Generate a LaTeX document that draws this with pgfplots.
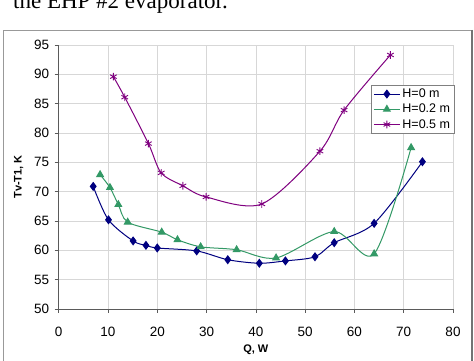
\documentclass[border=0pt]{standalone}
\usepackage{fontspec}
\setmainfont{Liberation Sans}
\newfontfamily\seriffont{Liberation Serif}
\usepackage{pgfplots}
\pgfplotsset{compat=1.18}
\definecolor{navyb}{RGB}{0,0,128}
\definecolor{greenc}{RGB}{51,153,102}
\definecolor{purplec}{RGB}{128,0,128}
\definecolor{gridc}{RGB}{215,215,215}
\definecolor{axc}{RGB}{90,90,90}
\begin{document}
\begin{tikzpicture}
\useasboundingbox (0,0) rectangle (474pt,361pt);
\clip (0,0) rectangle (474pt,361pt);
\fill[white] (0,0) rectangle (474pt,361pt);
\node[anchor=base east, inner sep=0pt, font=\seriffont\fontsize{23}{27}\selectfont] at (228pt,352pt) {the EHP \#2 evaporator.};
\draw[color=gray!80, line width=0.8pt] (3pt,-10pt) -- (3pt,331pt) -- (472pt,331pt);
\draw[color=gray!90!black, line width=1.8pt] (472pt,331pt) -- (472pt,-10pt);
\begin{axis}[
  at={(58.7pt,52pt)}, anchor=origin,
  scale only axis, width=394.3pt, height=264pt,
  xmin=0, xmax=80, ymin=50, ymax=95,
  xtick distance=10, ytick distance=5,
  axis x line*=bottom, axis y line*=left,
  axis line style={-, draw=axc, line width=0.8pt},
  tick align=outside, major tick length=4pt,
  tick style={draw=axc, line width=0.6pt},
  grid=major, major grid style={draw=gridc, line width=0.6pt},
  /pgf/number format/assume math mode=true,
  tick label style={font=\fontsize{13.5}{15}\selectfont},
  xticklabel style={yshift=-11pt},
  yticklabel style={xshift=-2pt},
  xlabel={\textbf{Q, W}}, ylabel={\textbf{Tv-T1, K}},
  label style={font=\fontsize{11}{13}\selectfont},
  xlabel style={yshift=-1pt},
  ylabel style={yshift=4pt},
  legend style={at={(0.792,0.848)}, anchor=north west, draw=gray, line width=0.6pt,
    font=\fontsize{12.5}{14}\selectfont, inner xsep=2pt, inner ysep=1.5pt,
    row sep=1pt, fill=white},
  legend cell align=left,
  legend image code/.code={\draw[mark repeat=2,mark phase=2] plot coordinates {(0cm,0cm) (0.46cm,0cm) (0.92cm,0cm)};},
  every axis plot/.append style={line width=1pt},
]
\addplot[navyb, smooth, tension=0.5, mark=diamond*, mark size=3.8pt, mark options={fill=navyb}] coordinates {
(7.0,70.9) (10.1,65.2) (15.1,61.6) (17.7,60.85) (20.0,60.4) (28.0,59.9) (34.3,58.4) (40.7,57.8) (46.0,58.2) (52.0,58.9) (55.9,61.3) (64.0,64.6) (73.8,75.1)};
\addlegendentry{H=0 m}
\addplot[greenc, smooth, tension=0.5, mark=triangle*, mark size=3.8pt, mark options={fill=greenc}] coordinates {
(8.4,72.9) (10.4,70.7) (12.1,67.8) (14.0,64.8) (20.9,63.1) (24.1,61.8) (28.8,60.6) (36.1,60.1) (44.1,58.7) (55.9,63.2) (64.0,59.4) (71.5,77.5)};
\addlegendentry{H=0.2 m}
\addplot[purplec, smooth, tension=0.5, mark=asterisk, mark size=3.8pt, mark options={line width=0.9pt}] coordinates {
(11.1,89.6) (13.4,86.1) (18.2,78.2) (20.8,73.2) (25.2,71.0) (29.9,69.1) (41.2,67.9) (53.0,76.9) (57.9,83.9) (67.3,93.3)};
\addlegendentry{H=0.5 m}
\end{axis}
\end{tikzpicture}
\end{document}
